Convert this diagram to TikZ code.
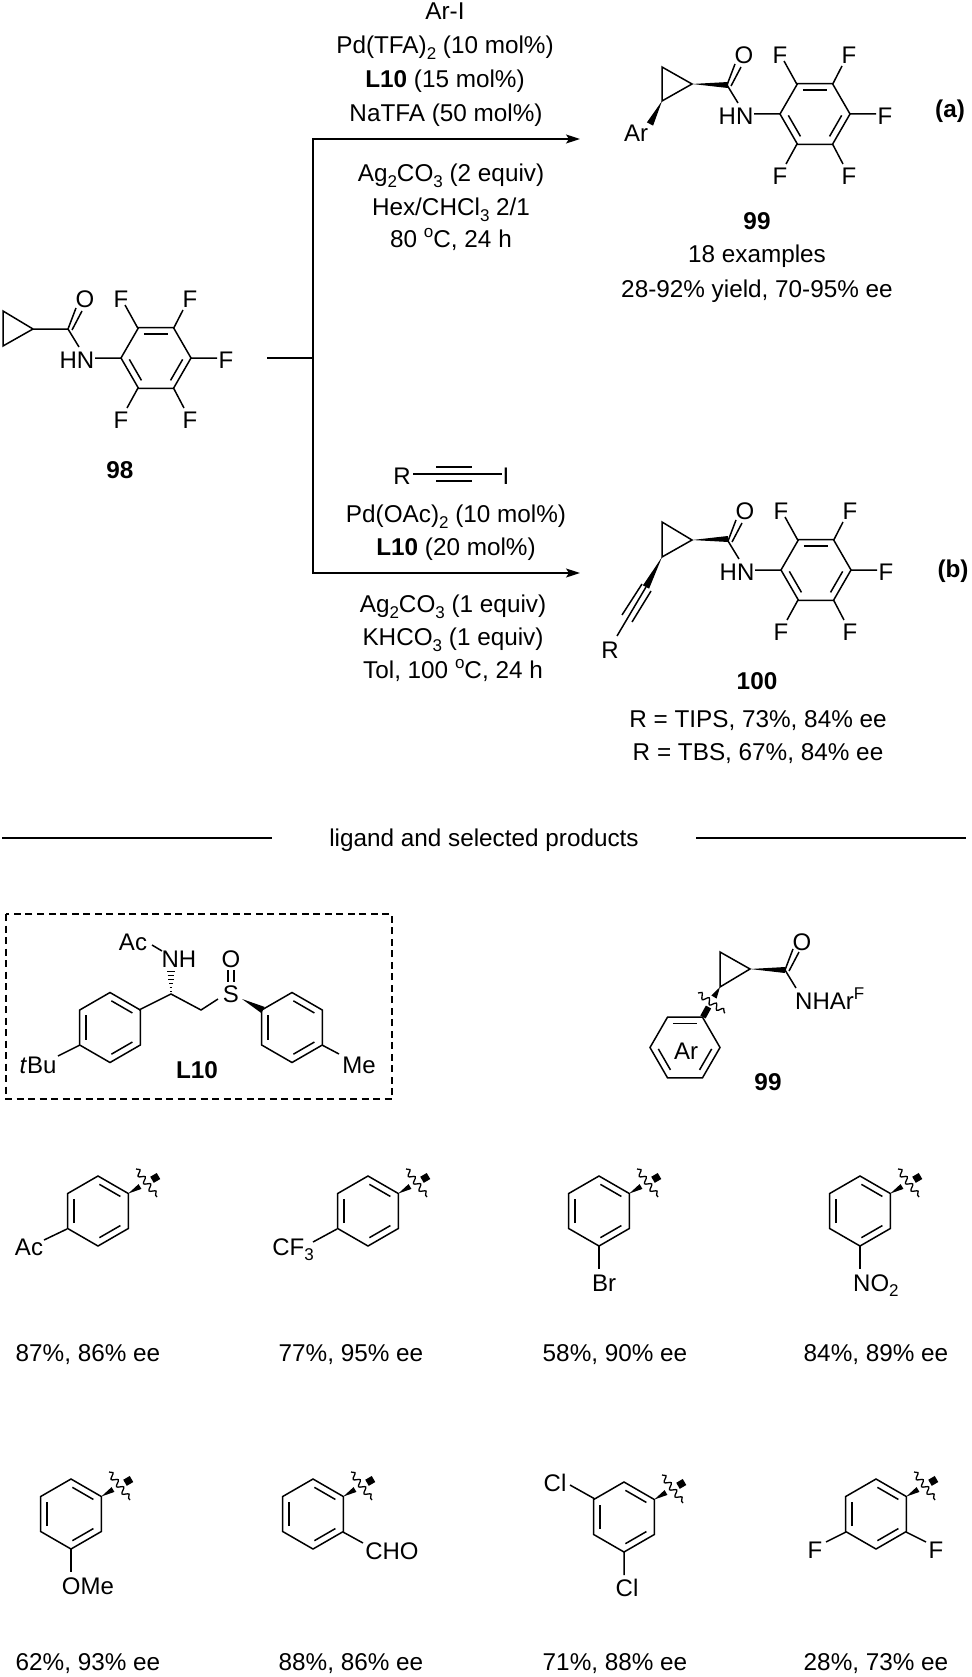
\documentclass[tikz,border=0pt]{standalone}
\usepackage{fontspec}
\setmainfont{Liberation Sans}
\usetikzlibrary{calc,arrows.meta,decorations.pathmorphing}
\tikzset{
  bond/.style={line width=1.5pt,line join=miter,line cap=butt},
  lab/.style={inner sep=0pt,anchor=base,yshift=-8.6pt,font=\fontsize{24}{28}\selectfont},
  labw/.style={lab,anchor=base west},
  txt/.style={inner sep=0pt,anchor=base,yshift=-8.7pt,font=\fontsize{24.3}{28}\selectfont},
  bold/.style={txt,font=\fontsize{24.3}{28}\selectfont\bfseries},
  wavy/.style={line width=1.3pt,decorate,decoration={snake,segment length=9pt,amplitude=2.8pt}},
  rxn/.style={line width=1.5pt},
}
\newcommand{\chemsub}[1]{\raisebox{-0.22em}{\fontsize{17}{17}\selectfont #1}}
\newcommand{\chemsup}[1]{\raisebox{0.42em}{\fontsize{17}{17}\selectfont #1}}
% ring: cx, cy, first-vertex angle, starting angles of the double bonds
\newcommand{\arene}[4]{\begin{scope}[shift={(#1,#2)}]
  \draw[bond] (#3:35) -- (#3+60:35) -- (#3+120:35) -- (#3+180:35) -- (#3+240:35) -- (#3+300:35) -- cycle;
  \foreach \e in {#4}{\draw[bond] (\e+3:26.7) -- (\e+57:26.7);}
\end{scope}}
% wedge: tip, wide end, half width
\newcommand{\wedgeb}[3]{\fill ($#2!#3pt!90:#1$) -- #1 -- ($#2!#3pt!-90:#1$) -- cycle;}
% broken bond at the upper right vertex of a ring
\newcommand{\attach}[2]{\begin{scope}[shift={(#1,#2)}]
  \wedgeb{(30.3,-17.5)}{(42,-24.5)}{2.8}
  \draw[wavy] (38,-42) -- (59,-14);
  \draw[line width=7pt] (54,-31.2) -- (60.5,-35);
\end{scope}}
% C6F5 ring with NH and C=O, relative to ring centre
\newcommand{\pfpamide}[2]{\arene{#1}{#2}{0}{240,120,0}
\begin{scope}[shift={(#1,#2)}]
  \draw[bond] (-18,-29.5) -- (-31,-53) (17.5,-29.5) -- (27,-48) (35,0) -- (61,0)
    (-18,30) -- (-29,50) (17.5,30) -- (28,50) (-35,0) -- (-61,0)
    (-88,-29) -- (-77,-11) (-88,-29) -- (-80,-50) (-84,-28) -- (-74,-47);
  \node[lab] at (-35,-59) {F};
  \node[lab] at (34,-59) {F};
  \node[lab] at (70,2) {F};
  \node[lab] at (-35,62) {F};
  \node[lab] at (34,62) {F};
  \node[lab] at (-79,2) {HN};
  \node[lab] at (-71,-59) {O};
\end{scope}}
\begin{document}
\begin{tikzpicture}[x=1pt,y=-1pt]
\useasboundingbox (0,0) rectangle (971,1677);

% ---------- substrate 98
\pfpamide{156}{358}
\draw[bond] (68,329) -- (33,329) -- (3,311) -- (3,346) -- (33,329);
\node[bold] (n98) at (120,470) {98};

% ---------- reaction arrows
\coordinate (s) at (267,358);
\coordinate (j) at (313,358);
\coordinate (jt) at (313,139);
\coordinate (jb) at (313,573);
\coordinate (ea) at (580,139);
\coordinate (eb) at (580,573);
\draw[rxn] (s) -- (j);
\draw[rxn,-{Stealth[length=14pt,width=9pt,inset=3pt]}] (j) -- (jt) -- (ea);
\draw[rxn,-{Stealth[length=14pt,width=9pt,inset=3pt]}] (j) -- (jb) -- (eb);

% ---------- conditions a
\node[txt] (ca1) at (445,11) {Ar-I};
\node[txt] (ca2) at (445,45) {Pd(TFA)\chemsub{2} (10 mol\%)};
\node[txt] (ca3) at (445,79) {\textbf{L10} (15 mol\%)};
\node[txt] (ca4) at (446,113) {NaTFA (50 mol\%)};
\node[txt] (ca5) at (451,173) {Ag\chemsub{2}CO\chemsub{3} (2 equiv)};
\node[txt] (ca6) at (451,207) {Hex/CHCl\chemsub{3} 2/1};
\node[txt] (ca7) at (451,239) {80 \chemsup{o}C, 24 h};

% ---------- product 99
\pfpamide{815}{114}
\draw[bond] (692,84) -- (662,67) -- (662,101) -- cycle;
\wedgeb{(692,84)}{(728,85)}{3}
\wedgeb{(662,101)}{(650,124)}{3.5}
\node[lab] (ar1) at (636,133) {Ar};
\node[bold] (n99) at (757,221) {99};
\node[txt] (t99a) at (757,254) {18 examples};
\node[txt] (t99b) at (757,289) {28-92\% yield, 70-95\% ee};
\node[bold] (lba) at (950,109) {(a)};

% ---------- conditions b
\node[lab] (rb) at (402,476) {R};
\node[lab] (ib) at (506,476) {I};
\draw[bond] (413,474) -- (502,474) (436,467) -- (472,467) (436,481) -- (472,481);
\node[txt] (cb2) at (456,514) {Pd(OAc)\chemsub{2} (10 mol\%)};
\node[txt] (cb3) at (456,547) {\textbf{L10} (20 mol\%)};
\node[txt] (cb4) at (453,604) {Ag\chemsub{2}CO\chemsub{3} (1 equiv)};
\node[txt] (cb5) at (453,637) {KHCO\chemsub{3} (1 equiv)};
\node[txt] (cb6) at (453,670) {Tol, 100 \chemsup{o}C, 24 h};

% ---------- product 100
\pfpamide{816}{570}
\draw[bond] (692,540) -- (662,522) -- (662,557) -- cycle;
\wedgeb{(692,540)}{(728,539)}{3}
\wedgeb{(662,557)}{(646,587)}{3.5}
\draw[bond] (646,587) -- (617,636) (642,584) -- (622,615) (651,591) -- (632,622);
\node[lab] (r100) at (610,650) {R};
\node[bold] (n100) at (757,681) {100};
\node[txt] (t100a) at (758,719) {R = TIPS, 73\%, 84\% ee};
\node[txt] (t100b) at (758,752) {R = TBS, 67\%, 84\% ee};
\node[bold] (lbb) at (953,569) {(b)};

% ---------- separator
\coordinate (sl1) at (2,838); \coordinate (sl2) at (272,838);
\coordinate (sr1) at (696,838); \coordinate (sr2) at (966,838);
\draw[rxn] (sl1) -- (sl2);
\draw[rxn] (sr1) -- (sr2);
\node[txt] (sep) at (484,838) {ligand and selected products};

% ---------- ligand box
\draw[line width=1.4pt,dash pattern=on 7pt off 4.5pt] (6,914) rectangle (392,1099);
\arene{110}{1027.5}{30}{150,270,30}
\arene{292}{1027.5}{30}{150,270,30}
\draw[bond] (139,1010) -- (171,994) -- (201,1010) -- (218,999);
\draw[bond] (152,945) -- (162,951);
\draw[bond] (228,970) -- (228,982) (234,970) -- (234,982);
\draw[bond] (80,1045) -- (58,1056) (322,1045) -- (339,1054);
\wedgeb{(242,999)}{(263,1010)}{3.5}
\foreach \y/\w in {991/0.8,987/1.4,983/2,979/2.7,975/3.4,971.5/4}{\draw[line width=1pt] (171-\w,\y) -- (171+\w,\y);}
\node[lab] (ac) at (133,942) {Ac};
\node[lab] (nh) at (179,959) {NH};
\node[lab] (oL) at (231,959) {O};
\node[lab] (sL) at (231,994) {S};
\node[lab] (tbu) at (38,1065) {\textit{t}Bu};
\node[lab] (me) at (359,1065) {Me};
\node[bold] (l10) at (197,1070) {L10};

% ---------- general product 99
\arene{685}{1047.5}{0}{240,120,0}
\draw[bond] (750,969) -- (720,952) -- (720,987) -- cycle;
\wedgeb{(750,969)}{(785,970)}{3}
\draw[bond] (785,970) -- (796,988) (785,970) -- (793,949) (789,971) -- (799,952);
\wedgeb{(720,987)}{(714,997)}{3}
\draw[wavy] (698,993) -- (725,1013);
\draw[line width=6pt] (708.5,1007) -- (703,1017);
\node[lab] (oG) at (802,942) {O};
\node[labw] (nhar) at (795,1001) {NHAr\chemsup{F}};
\node[lab] (arG) at (686,1051) {Ar};
\node[bold] (n99b) at (768,1082) {99};

% ---------- row 1
\arene{98}{1211}{30}{150,270,30}\attach{98}{1211}
\draw[bond] (67,1229) -- (44,1240);
\node[lab] (r1a) at (29,1247) {Ac};
\arene{368}{1211}{30}{150,270,30}\attach{368}{1211}
\draw[bond] (337,1229) -- (313,1242);
\node[lab] (r1b) at (293,1247) {CF\chemsub{3}};
\arene{599}{1211}{30}{150,270,30}\attach{599}{1211}
\draw[bond] (599,1246) -- (599,1269);
\node[lab] (r1c) at (604,1283) {Br};
\arene{860}{1211}{30}{150,270,30}\attach{860}{1211}
\draw[bond] (860,1246) -- (860,1269);
\node[labw] (r1d) at (853,1283) {NO\chemsub{2}};
\node[txt] (y1) at (88,1353) {87\%, 86\% ee};
\node[txt] (y2) at (351,1353) {77\%, 95\% ee};
\node[txt] (y3) at (615,1353) {58\%, 90\% ee};
\node[txt] (y4) at (876,1353) {84\%, 89\% ee};

% ---------- row 2
\arene{71}{1514}{30}{150,270,30}\attach{71}{1514}
\draw[bond] (71,1549) -- (71,1572);
\node[lab] (r2a) at (88,1586) {OMe};
\arene{313}{1514}{30}{150,270,30}\attach{313}{1514}
\draw[bond] (343,1532) -- (363,1543);
\node[lab] (r2b) at (392,1551) {CHO};
\arene{624}{1517}{30}{150,270,30}\attach{624}{1517}
\draw[bond] (595,1499) -- (570,1485) (624,1552) -- (624,1575);
\node[lab] (r2c) at (555,1483) {Cl};
\node[lab] (r2d) at (627,1588) {Cl};
\arene{876}{1514}{30}{150,270,30}\attach{876}{1514}
\draw[bond] (846,1532) -- (826,1542) (906,1532) -- (926,1542);
\node[lab] (r2e) at (815,1550) {F};
\node[lab] (r2f) at (936,1550) {F};
\node[txt] (y5) at (88,1662) {62\%, 93\% ee};
\node[txt] (y6) at (351,1662) {88\%, 86\% ee};
\node[txt] (y7) at (615,1662) {71\%, 88\% ee};
\node[txt] (y8) at (876,1662) {28\%, 73\% ee};
\end{tikzpicture}
\end{document}
